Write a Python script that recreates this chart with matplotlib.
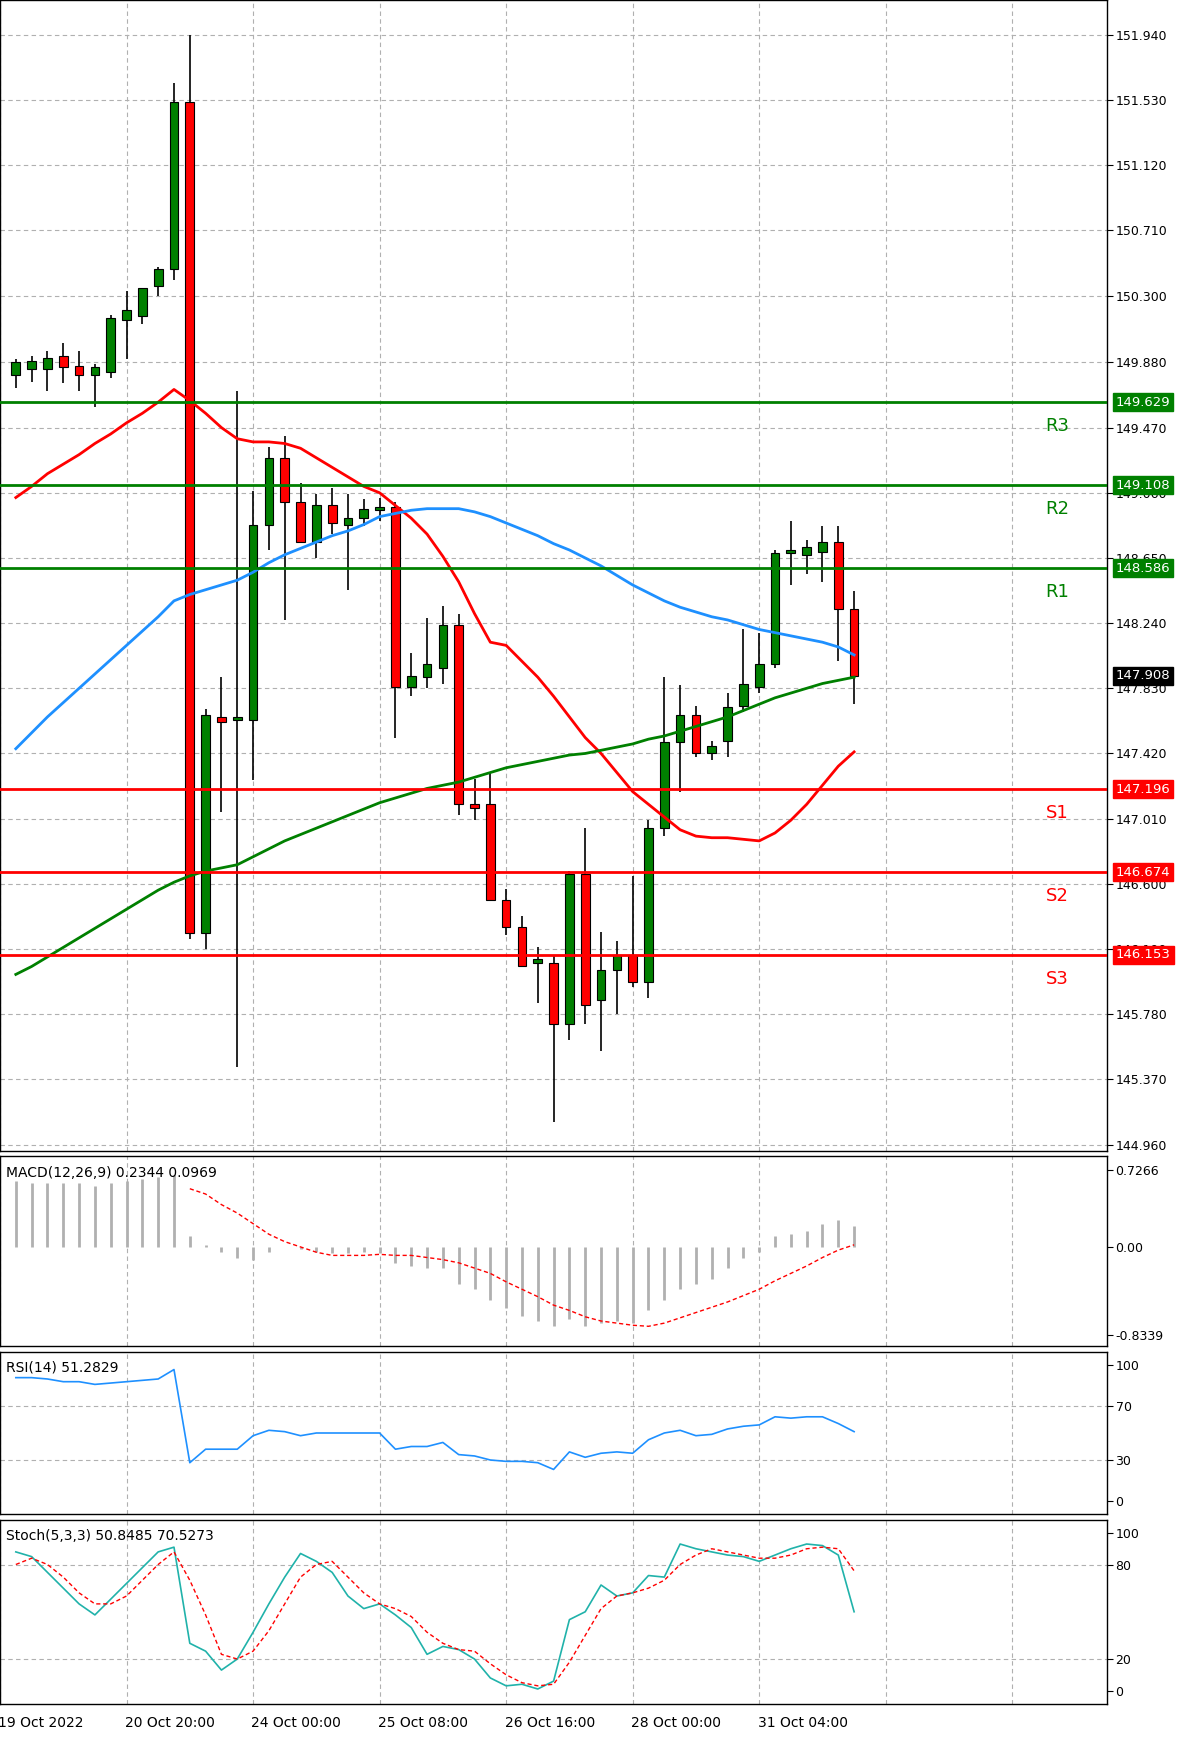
import matplotlib
matplotlib.use("Agg")
import matplotlib.pyplot as plt
import numpy as np
from matplotlib.transforms import blended_transform_factory as btf

opens  = [149.80,149.84,149.84,149.92,149.86,149.80,149.82,150.15,150.17,150.36,150.47,151.52,146.29,147.65,147.63,147.63,148.86,149.28,149.00,148.75,148.98,148.86,148.90,148.95,148.97,147.84,147.90,147.96,148.23,147.10,147.10,146.50,146.33,146.10,146.10,145.72,146.66,145.87,146.06,146.15,145.98,146.95,147.49,147.66,147.42,147.50,147.72,147.84,147.98,148.68,148.67,148.69,148.75,148.33]
highs  = [149.90,149.92,149.95,150.00,149.95,149.87,150.18,150.33,150.35,150.48,151.64,151.94,147.70,147.90,149.70,149.07,149.35,149.42,149.12,149.05,149.09,149.05,149.02,149.03,149.00,148.05,148.27,148.35,148.30,147.26,147.30,146.57,146.40,146.20,146.15,146.68,146.95,146.30,146.24,146.65,147.00,147.90,147.85,147.72,147.50,147.80,148.20,148.18,148.70,148.88,148.76,148.85,148.85,148.44]
lows   = [149.72,149.76,149.70,149.75,149.70,149.60,149.78,149.90,150.12,150.30,150.40,146.25,146.19,147.05,145.45,147.25,148.70,148.26,148.75,148.65,148.80,148.45,148.85,148.88,147.52,147.78,147.83,147.86,147.03,147.00,146.50,146.28,146.08,145.85,145.10,145.62,145.72,145.55,145.78,145.95,145.88,146.90,147.18,147.40,147.38,147.40,147.68,147.80,147.96,148.48,148.55,148.50,148.00,147.73]
closes = [149.88,149.89,149.91,149.85,149.80,149.85,150.16,150.21,150.35,150.47,151.52,146.29,147.66,147.62,147.65,148.86,149.28,149.00,148.75,148.98,148.87,148.90,148.96,148.97,147.84,147.91,147.98,148.23,147.10,147.08,146.50,146.33,146.08,146.13,145.72,146.66,145.84,146.06,146.15,145.98,146.95,147.49,147.66,147.42,147.47,147.71,147.86,147.98,148.68,148.70,148.72,148.75,148.33,147.91]

ma_red = [149.03,149.10,149.18,149.24,149.30,149.37,149.43,149.50,149.56,149.63,149.71,149.64,149.56,149.47,149.40,149.38,149.38,149.37,149.34,149.28,149.22,149.16,149.10,149.06,148.98,148.90,148.80,148.66,148.50,148.30,148.12,148.10,148.00,147.90,147.78,147.65,147.52,147.42,147.30,147.18,147.10,147.02,146.94,146.90,146.89,146.89,146.88,146.87,146.92,147.00,147.10,147.22,147.34,147.43]
ma_blue = [147.45,147.55,147.65,147.74,147.83,147.92,148.01,148.10,148.19,148.28,148.38,148.42,148.45,148.48,148.51,148.56,148.62,148.67,148.71,148.75,148.79,148.82,148.86,148.91,148.93,148.95,148.96,148.96,148.96,148.94,148.91,148.87,148.83,148.79,148.74,148.70,148.65,148.60,148.54,148.48,148.43,148.38,148.34,148.31,148.28,148.26,148.23,148.20,148.18,148.16,148.14,148.12,148.09,148.04]
ma_green = [146.03,146.08,146.14,146.20,146.26,146.32,146.38,146.44,146.50,146.56,146.61,146.65,146.68,146.70,146.72,146.77,146.82,146.87,146.91,146.95,146.99,147.03,147.07,147.11,147.14,147.17,147.20,147.22,147.24,147.27,147.30,147.33,147.35,147.37,147.39,147.41,147.42,147.44,147.46,147.48,147.51,147.53,147.56,147.59,147.62,147.65,147.69,147.73,147.77,147.80,147.83,147.86,147.88,147.90]

macd_hist = [.62,.60,.60,.60,.60,.58,.60,.62,.64,.66,.68,.10,.02,-.05,-.10,-.12,-.05,0.0,-.02,-.05,-.06,-.06,-.05,-.06,-.15,-.18,-.20,-.20,-.35,-.40,-.50,-.58,-.65,-.70,-.75,-.68,-.75,-.72,-.70,-.72,-.60,-.50,-.40,-.35,-.30,-.20,-.10,-.05,.10,.12,.15,.22,.25,.20]
macd_signal = [np.nan]*11 + [.55,.50,.40,.32,.22,.12,.05,0.0,-.05,-.08,-.08,-.08,-.07,-.08,-.08,-.10,-.12,-.15,-.20,-.25,-.33,-.40,-.47,-.55,-.60,-.66,-.70,-.72,-.74,-.75,-.72,-.67,-.62,-.57,-.52,-.46,-.40,-.32,-.25,-.18,-.10,-.03,.02]
rsi = [91,91,90,88,88,86,87,88,89,90,97,28,38,38,38,48,52,51,48,50,50,50,50,50,38,40,40,43,34,33,30,29,29,28,23,36,32,35,36,35,45,50,52,48,49,53,55,56,62,61,62,62,57,51]
stoch_k = [88,85,75,65,55,48,58,68,78,88,91,30,25,13,20,37,55,72,87,82,75,60,52,55,48,40,23,28,26,20,8,3,4,1,6,45,50,67,60,62,73,72,93,90,88,86,85,82,86,90,93,92,86,50]
stoch_d = [80,84,80,72,62,55,55,60,70,80,88,70,48,23,20,25,38,55,72,80,82,72,62,55,52,47,37,30,26,25,17,10,5,3,4,18,35,52,60,62,65,70,80,86,90,88,86,84,84,86,90,91,90,76]

price_ticks = [151.940,151.530,151.120,150.710,150.300,149.880,149.470,149.060,148.650,148.240,147.830,147.420,147.010,146.600,146.190,145.780,145.370,144.960]
levels = [149.629,149.108,148.586,147.196,146.674,146.153]
level_names = ["R3","R2","R1","S1","S2","S3"]
current_price = 147.908
date_labels = ["19 Oct 2022","20 Oct 20:00","24 Oct 00:00","25 Oct 08:00","26 Oct 16:00","28 Oct 00:00","31 Oct 04:00"]
date_pos = [-1,7,15,23,31,39,47]

W, H = 1073, 1568
fig = plt.figure(figsize=(12, 17.52), dpi=100)
def mk(top, bot):
    return fig.add_axes([0, 1-bot/H, 990/W, (bot-top)/H])
ax = mk(0, 1030); am = mk(1035, 1205); ar = mk(1210, 1355); ast = mk(1360, 1525)
XL = (-0.7, 69.0)
x = np.arange(len(closes))
grid_kw = dict(color="#b0b0b0", ls=(0, (4, 3)), lw=0.8)
for a in (ax, am, ar, ast):
    a.set_xlim(*XL)
    a.set_xticks(date_pos + [55, 63])
    a.grid(True, axis="x", **grid_kw)
    a.tick_params(axis="x", length=0, labelbottom=False)
    a.yaxis.tick_right()
    a.tick_params(axis="y", length=4, labelsize=9, pad=2)
    for s in a.spines.values():
        s.set_linewidth(1.0)
    a.set_axisbelow(True)

# main
ax.set_ylim(144.92, 152.16)
ax.set_yticks(price_ticks)
ax.set_yticklabels([f"{t:.3f}" for t in price_ticks])
ax.grid(True, axis="y", **grid_kw)
for i in x:
    o, h, l, c = opens[i], highs[i], lows[i], closes[i]
    ax.vlines(i, l, h, color="black", lw=1.2, zorder=3)
    col = "#008000" if c >= o else "#ff0000"
    ax.bar(i, abs(c-o) if abs(c-o) > 0.01 else 0.015, bottom=min(o, c), width=0.55,
           color=col, edgecolor="black", lw=0.8, zorder=4)
ax.plot(x, ma_red, color="#ff0000", lw=2, zorder=5)
ax.plot(x, ma_blue, color="#1e90ff", lw=2, zorder=5)
ax.plot(x, ma_green, color="#008000", lw=2, zorder=5)
tr = btf(ax.transAxes, ax.transData)
for lv, nm in zip(levels, level_names):
    col = "#008000" if nm.startswith("R") else "#ff0000"
    ax.axhline(lv, color=col, lw=2, zorder=6)
    ax.text(1.008, lv, f"{lv:.3f}", transform=tr, color="white", fontsize=9.5, va="center",
            ha="left", bbox=dict(boxstyle="square,pad=0.2", fc=col, ec=col), zorder=10, clip_on=False)
    ax.text(0.955, lv - 0.15, nm, transform=tr, color=col, fontsize=13, ha="center", va="center")
ax.text(1.008, current_price, f"{current_price:.3f}", transform=tr, color="white", fontsize=9.5,
        va="center", ha="left", bbox=dict(boxstyle="square,pad=0.2", fc="black", ec="black"),
        zorder=10, clip_on=False)

# MACD
am.set_ylim(-0.94, 0.855)
am.set_yticks([0.7266, 0.0, -0.8339]); am.set_yticklabels(["0.7266", "0.00", "-0.8339"])
am.vlines(x, 0, macd_hist, color="#b0b0b0", lw=2)
am.plot(x, macd_signal, color="#ff0000", lw=1, ls=(0, (3, 2)))
am.text(0.005, 0.95, "MACD(12,26,9) 0.2344 0.0969", transform=am.transAxes, fontsize=10, va="top")

# RSI
ar.set_ylim(-10, 110)
ar.set_yticks([100, 70, 30, 0])
for v in (70, 30):
    ar.axhline(v, **grid_kw)
ar.plot(x, rsi, color="#1e90ff", lw=1.2)
ar.text(0.005, 0.95, "RSI(14) 51.2829", transform=ar.transAxes, fontsize=10, va="top")

# Stoch
ast.set_ylim(-8.5, 108.5)
ast.set_yticks([100, 80, 20, 0])
for v in (80, 20):
    ast.axhline(v, **grid_kw)
ast.plot(x, stoch_k, color="#20b2aa", lw=1.2)
ast.plot(x, stoch_d, color="#ff0000", lw=1, ls=(0, (3, 2)))
ast.text(0.005, 0.95, "Stoch(5,3,3) 50.8485 70.5273", transform=ast.transAxes, fontsize=10, va="top")

trx = btf(ast.transData, fig.transFigure)
for p, lab in zip(date_pos, date_labels):
    fig.text(0, 0, lab, transform=trx, fontsize=10, ha="left", va="center").set_position((p - 0.1, 1 - 1542/H))

fig.savefig("out.png", dpi=100, facecolor="white")
